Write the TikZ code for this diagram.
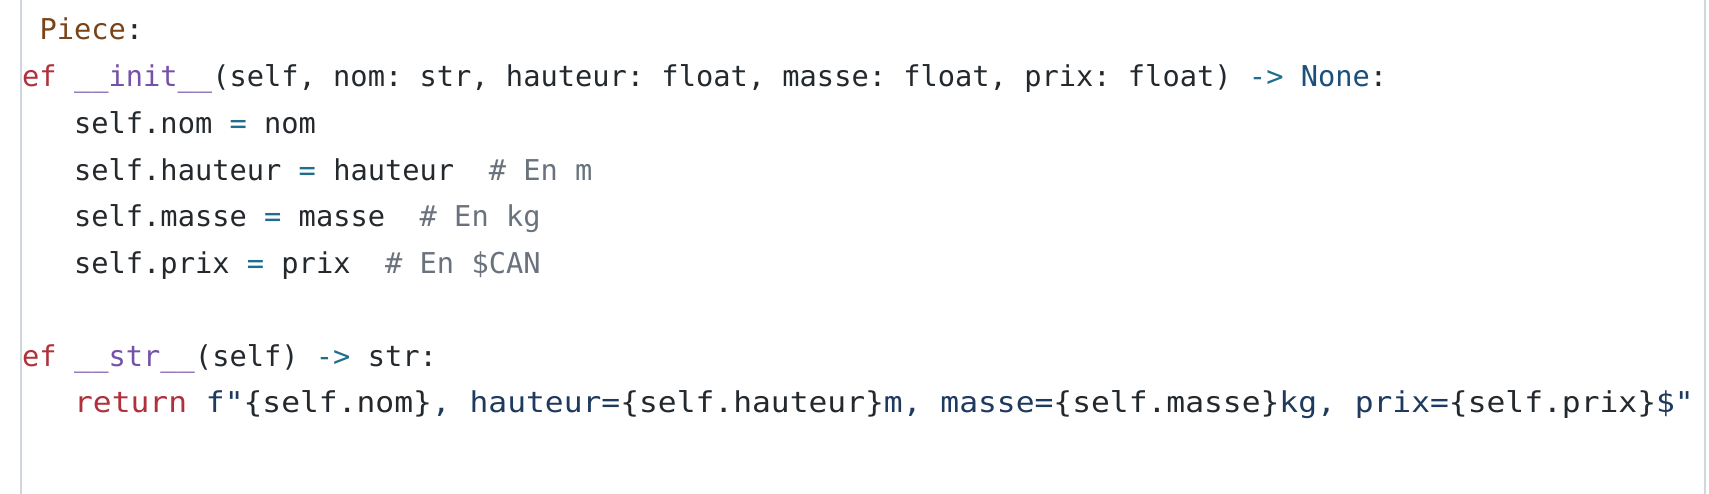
\documentclass[tikz,border=0pt]{standalone}
\usepackage{fontspec}
\setmonofont{DejaVu Sans Mono}
\definecolor{kw}{HTML}{B0303C}
\definecolor{fn}{HTML}{7452A8}
\definecolor{op}{HTML}{1F6E8C}
\definecolor{nn}{HTML}{1B4F7C}
\definecolor{cm}{HTML}{6A737D}
\definecolor{cls}{HTML}{7A4418}
\definecolor{st}{HTML}{1E3A5F}
\definecolor{tx}{HTML}{24292E}
\definecolor{bd}{HTML}{D0D7DE}
\newcommand{\K}[1]{\textcolor{kw}{#1}}
\newcommand{\F}[1]{\textcolor{fn}{#1}}
\newcommand{\Op}[1]{\textcolor{op}{#1}}
\newcommand{\C}[1]{\textcolor{cm}{#1}}
\newcommand{\Sg}[1]{\textcolor{st}{#1}}
\begin{document}
\begin{tikzpicture}[x=1pt,y=-1pt,
  ln/.style={anchor=base west,inner sep=0pt,font=\fontsize{28.7}{30}\ttfamily,text=tx}]
\useasboundingbox (0,0) rectangle (1709,494);
\fill[white] (0,0) rectangle (1709,494);
\draw[bd,line width=2.5pt] (21,0) -- (21,494);
\draw[bd,line width=2.5pt] (1705,0) -- (1705,494);
\def\cw{17.3}
\node[ln] (l1) at (22+\cw,40) {\textcolor{cls}{Piece}:};
\node[ln] (l2) at (22,87) {\K{ef} \F{\_\_init\_\_}(self, nom: str, hauteur: float, masse: float, prix: float) \Op{->} \textcolor{nn}{None}:};
\node[ln] (l3) at (22+3*\cw,134) {self.nom \Op{=} nom};
\node[ln] (l4) at (22+3*\cw,180.5) {self.hauteur \Op{=} hauteur\ \ \C{\# En m}};
\node[ln] (l5) at (22+3*\cw,227) {self.masse \Op{=} masse\ \ \C{\# En kg}};
\node[ln] (l6) at (22+3*\cw,273.5) {self.prix \Op{=} prix\ \ \C{\# En \$CAN}};
\node[ln] (l8) at (22,366.5) {\K{ef} \F{\_\_str\_\_}(self) \Op{->} str:};
\node[ln,xscale=1.09,transform shape] (l9) at (22+3*\cw,413) {\K{return} \Sg{f"}\{self.nom\}\Sg{, hauteur=}\{self.hauteur\}\Sg{m, masse=}\{self.masse\}\Sg{kg, prix=}\{self.prix\}\Sg{\$"}};
\end{tikzpicture}
\end{document}
